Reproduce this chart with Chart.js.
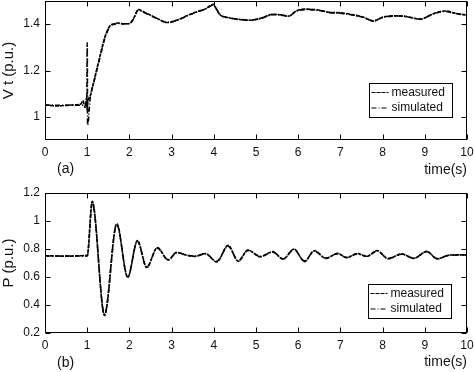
<!DOCTYPE html>
<html>
<head>
<meta charset="utf-8">
<script src="https://cdn.jsdelivr.net/npm/chart.js@4.4.1/dist/chart.umd.min.js"></script>
<style>
  html, body { margin: 0; padding: 0; background: #fff; }
  body { width: 474px; height: 372px; position: relative; overflow: hidden; font-family: 'Liberation Sans', Arial, sans-serif; }
  canvas { position: absolute; left: 0; }
  #vtChart { top: 0; }
  #pChart { top: 180px; }
  .tag { position: absolute; font-size: 14px; color: #111; line-height: 16px; }
</style>
</head>
<body>
<canvas id="vtChart" width="474" height="180"></canvas>
<canvas id="pChart" width="474" height="192"></canvas>
<div class="tag" style="left:57px; top:160px">(a)</div>
<div class="tag" style="left:57px; top:354px">(b)</div>
<script>
// shared x axis
const timeTicks = [0, 1, 2, 3, 4, 5, 6, 7, 8, 9, 10];
const seriesNames = ['measured', 'simulated'];

// (a) terminal voltage Vt
const vtTime = [0, 0.3, 0.6, 0.85, 0.9, 0.95, 0.99, 1.0, 1.01, 1.07,
  1.18, 1.3, 1.42, 1.54, 1.65, 1.74, 1.85, 2.0, 2.1, 2.21,
  2.35, 2.49, 2.7, 2.88, 3.12, 3.4, 3.59, 3.8, 3.99, 4.05,
  4.15, 4.38, 4.6, 4.86, 5.1, 5.41, 5.6, 5.77, 5.96, 6.2,
  6.52, 6.75, 6.99, 7.31, 7.55, 7.78, 8.02, 8.41, 8.65, 8.89,
  9.2, 9.48, 9.7, 9.95, 10];
const vtMeasured = [1.052, 1.047, 1.051, 1.055, 1.07, 1.04, 1.085, 1.03, 1.06, 1.09,
  1.17, 1.26, 1.345, 1.393, 1.402, 1.405, 1.401, 1.403, 1.425, 1.463,
  1.452, 1.44, 1.421, 1.407, 1.417, 1.44, 1.453, 1.466, 1.486, 1.47,
  1.44, 1.427, 1.42, 1.417, 1.425, 1.443, 1.44, 1.434, 1.458, 1.465,
  1.46, 1.451, 1.449, 1.44, 1.43, 1.413, 1.431, 1.436, 1.43, 1.421,
  1.445, 1.457, 1.448, 1.44, 1.437];
const vtSimulated = [1.05, 1.05, 1.05, 1.05, 1.05, 1.05, 1.05, 1.32, 0.965, 1.08,
  1.165, 1.255, 1.34, 1.39, 1.4, 1.403, 1.402, 1.402, 1.423, 1.46,
  1.45, 1.438, 1.42, 1.408, 1.416, 1.438, 1.452, 1.465, 1.482, 1.468,
  1.441, 1.428, 1.421, 1.418, 1.424, 1.441, 1.439, 1.435, 1.456, 1.463,
  1.458, 1.45, 1.447, 1.439, 1.429, 1.415, 1.43, 1.435, 1.429, 1.422,
  1.444, 1.455, 1.447, 1.439, 1.437];
const vtTicks = [1, 1.2, 1.4];

// (b) active power P
const pTime = [0, 0.5, 0.98, 1.0, 1.12, 1.41, 1.7, 1.96, 2.19, 2.41,
  2.66, 2.92, 3.12, 3.36, 3.55, 3.8, 4.07, 4.34, 4.58, 4.81,
  5.1, 5.4, 5.64, 5.9, 6.15, 6.38, 6.66, 6.93, 7.15, 7.4,
  7.62, 7.87, 8.13, 8.45, 8.74, 9.05, 9.29, 9.6, 10];
const pMeasured = [0.752, 0.749, 0.753, 0.752, 1.14, 0.325, 0.98, 0.598, 0.86, 0.668,
  0.81, 0.722, 0.776, 0.755, 0.747, 0.768, 0.708, 0.826, 0.712, 0.793,
  0.745, 0.781, 0.727, 0.8, 0.71, 0.788, 0.733, 0.769, 0.738, 0.768,
  0.746, 0.789, 0.73, 0.765, 0.733, 0.783, 0.729, 0.757, 0.758];
const pSimulated = [0.75, 0.75, 0.75, 0.75, 1.13, 0.335, 0.975, 0.6, 0.855, 0.67,
  0.806, 0.724, 0.772, 0.757, 0.75, 0.765, 0.712, 0.82, 0.716, 0.79,
  0.747, 0.778, 0.73, 0.796, 0.714, 0.785, 0.735, 0.766, 0.74, 0.765,
  0.748, 0.785, 0.733, 0.762, 0.735, 0.78, 0.732, 0.756, 0.757];
const pTicks = [0.2, 0.4, 0.6, 0.8, 1, 1.2];

Chart.defaults.font.family = "'Liberation Sans', Arial, sans-serif";
Chart.defaults.font.size = 12;
Chart.defaults.color = '#111';

// matlab style box: frame, inward ticks on all four sides, boxed legend
const matlabAxes = {
  id: 'matlabAxes',
  afterDatasetsDraw(chart, args, opts) {
    const { ctx, chartArea: a, scales: { x, y } } = chart;
    const L = Math.round(a.left) + 0.5, R = Math.round(a.right) - 0.5;
    const T = Math.round(a.top) + 0.5, B = Math.round(a.bottom) - 0.5;
    const tl = 5;
    ctx.save();
    ctx.strokeStyle = '#000';
    ctx.lineWidth = 1;
    ctx.setLineDash([]);
    ctx.strokeRect(L, T, R - L, B - T);
    ctx.beginPath();
    x.ticks.forEach(t => {
      const px = Math.round(x.getPixelForValue(t.value)) + 0.5;
      ctx.moveTo(px, B); ctx.lineTo(px, B - tl);
      ctx.moveTo(px, T); ctx.lineTo(px, T + tl);
    });
    y.ticks.forEach(t => {
      const py = Math.round(y.getPixelForValue(t.value)) + 0.5;
      ctx.moveTo(L, py); ctx.lineTo(L + tl, py);
      ctx.moveTo(R, py); ctx.lineTo(R - tl, py);
    });
    ctx.stroke();

    // legend box
    const lg = opts.legend;
    const bx = Math.round(a.right - lg.right - lg.w) + 0.5;
    const by = Math.round(a.bottom - lg.bottom - lg.h) + 0.5;
    ctx.fillStyle = '#fff';
    ctx.fillRect(bx, by, lg.w, lg.h);
    ctx.strokeRect(bx, by, lg.w, lg.h);
    ctx.font = "12px 'Liberation Sans', Arial, sans-serif";
    ctx.textBaseline = 'middle';
    chart.data.datasets.forEach((ds, i) => {
      const ry = by + 9 + i * 15.5;
      ctx.beginPath();
      ctx.setLineDash(ds.borderDash);
      ctx.lineWidth = 1;
      ctx.moveTo(bx + 2, ry); ctx.lineTo(bx + 19, ry);
      ctx.stroke();
      ctx.setLineDash([]);
      ctx.fillStyle = '#111';
      ctx.fillText(ds.label, bx + 22, ry);
    });
    ctx.restore();
  }
};

function makePanel(id, time, measured, simulated, yMin, yMax, yTicks, yTitle, padTop, xAxisH, legendPos) {
  const toPts = vals => time.map((t, i) => ({ x: t, y: vals[i] }));
  return new Chart(document.getElementById(id), {
    type: 'line',
    data: {
      datasets: [
        { label: seriesNames[0], data: toPts(measured), borderColor: '#000', borderWidth: 1.6,
          borderDash: [4, 1], pointRadius: 0, fill: false, cubicInterpolationMode: 'monotone' },
        { label: seriesNames[1], data: toPts(simulated), borderColor: '#000', borderWidth: 1.6,
          borderDash: [5, 2, 1, 2], pointRadius: 0, fill: false, cubicInterpolationMode: 'monotone' }
      ]
    },
    options: {
      responsive: false,
      animation: false,
      layout: { padding: { left: 0, right: 7, top: padTop, bottom: 0 } },
      plugins: {
        legend: { display: false },
        tooltip: { enabled: false },
        matlabAxes: { legend: legendPos }
      },
      scales: {
        x: {
          type: 'linear', min: 0, max: 10,
          grid: { display: false, drawTicks: false },
          border: { display: false },
          afterBuildTicks: s => { s.ticks = timeTicks.map(v => ({ value: v })); },
          ticks: { padding: 5, maxRotation: 0, autoSkip: false, callback: v => String(v) },
          title: { display: true, text: 'time(s)', align: 'end', font: { size: 14 }, padding: { top: 0, bottom: 1 } },
          afterFit: s => { s.height = xAxisH; s.paddingLeft = 0; s.paddingRight = 0; }
        },
        y: {
          type: 'linear', min: yMin, max: yMax,
          grid: { display: false, drawTicks: false },
          border: { display: false },
          afterBuildTicks: s => { s.ticks = yTicks.map(v => ({ value: v })); },
          ticks: { padding: 5, callback: v => String(v) },
          title: { display: true, text: yTitle, font: { size: 15 }, padding: 0 },
          afterFit: s => { s.width = 45; s.paddingTop = 0; s.paddingBottom = 0; }
        }
      }
    },
    plugins: [matlabAxes]
  });
}

makePanel('vtChart', vtTime, vtMeasured, vtSimulated, 0.9, 1.5, vtTicks, 'V t (p.u.)', 1, 40,
  { right: 15, bottom: 23, w: 83, h: 34 });
makePanel('pChart', pTime, pMeasured, pSimulated, 0.2, 1.2, pTicks, 'P (p.u.)', 13, 39,
  { right: 16, bottom: 15, w: 83, h: 34 });
</script>
</body>
</html>
